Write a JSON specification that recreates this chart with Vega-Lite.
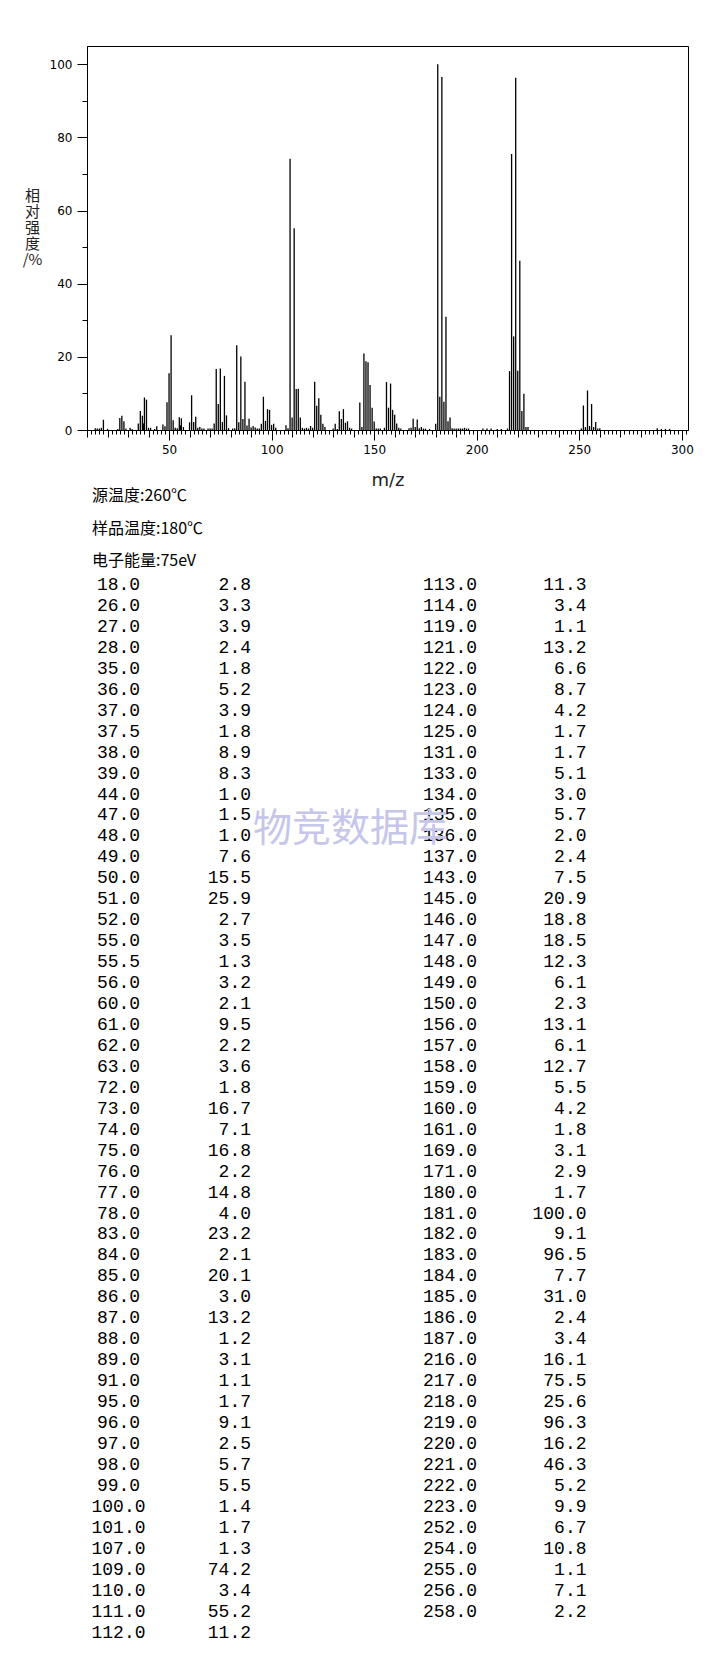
{
  "$schema": "https://vega.github.io/schema/vega-lite/v6.json",
  "autosize": "none",
  "padding": {"left": 87, "top": 46, "right": 21, "bottom": 1228},
  "width": 601,
  "height": 384,
  "background": "#ffffff",
  "config": {
    "view": {"stroke": "#000000", "strokeWidth": 1},
    "axis": {"grid": false, "domainColor": "#000000", "tickColor": "#000000", "labelColor": "#000000", "labelFont": "DejaVu Sans", "labelFontSize": 12, "domainWidth": 1, "tickWidth": 1}
  },
  "datasets": {
    "peaks": [
      {"mz": 18, "intensity": 2.8}, {"mz": 26, "intensity": 3.3}, {"mz": 27, "intensity": 3.9}, {"mz": 28, "intensity": 2.4},
      {"mz": 35, "intensity": 1.8}, {"mz": 36, "intensity": 5.2}, {"mz": 37, "intensity": 3.9}, {"mz": 37.5, "intensity": 1.8},
      {"mz": 38, "intensity": 8.9}, {"mz": 39, "intensity": 8.3}, {"mz": 44, "intensity": 1.0}, {"mz": 47, "intensity": 1.5},
      {"mz": 48, "intensity": 1.0}, {"mz": 49, "intensity": 7.6}, {"mz": 50, "intensity": 15.5}, {"mz": 51, "intensity": 25.9},
      {"mz": 52, "intensity": 2.7}, {"mz": 55, "intensity": 3.5}, {"mz": 55.5, "intensity": 1.3}, {"mz": 56, "intensity": 3.2},
      {"mz": 60, "intensity": 2.1}, {"mz": 61, "intensity": 9.5}, {"mz": 62, "intensity": 2.2}, {"mz": 63, "intensity": 3.6},
      {"mz": 72, "intensity": 1.8}, {"mz": 73, "intensity": 16.7}, {"mz": 74, "intensity": 7.1}, {"mz": 75, "intensity": 16.8},
      {"mz": 76, "intensity": 2.2}, {"mz": 77, "intensity": 14.8}, {"mz": 78, "intensity": 4.0}, {"mz": 83, "intensity": 23.2},
      {"mz": 84, "intensity": 2.1}, {"mz": 85, "intensity": 20.1}, {"mz": 86, "intensity": 3.0}, {"mz": 87, "intensity": 13.2},
      {"mz": 88, "intensity": 1.2}, {"mz": 89, "intensity": 3.1}, {"mz": 91, "intensity": 1.1}, {"mz": 95, "intensity": 1.7},
      {"mz": 96, "intensity": 9.1}, {"mz": 97, "intensity": 2.5}, {"mz": 98, "intensity": 5.7}, {"mz": 99, "intensity": 5.5},
      {"mz": 100, "intensity": 1.4}, {"mz": 101, "intensity": 1.7}, {"mz": 107, "intensity": 1.3}, {"mz": 109, "intensity": 74.2},
      {"mz": 110, "intensity": 3.4}, {"mz": 111, "intensity": 55.2}, {"mz": 112, "intensity": 11.2},
      {"mz": 113, "intensity": 11.3}, {"mz": 114, "intensity": 3.4}, {"mz": 119, "intensity": 1.1}, {"mz": 121, "intensity": 13.2},
      {"mz": 122, "intensity": 6.6}, {"mz": 123, "intensity": 8.7}, {"mz": 124, "intensity": 4.2}, {"mz": 125, "intensity": 1.7},
      {"mz": 131, "intensity": 1.7}, {"mz": 133, "intensity": 5.1}, {"mz": 134, "intensity": 3.0}, {"mz": 135, "intensity": 5.7},
      {"mz": 136, "intensity": 2.0}, {"mz": 137, "intensity": 2.4}, {"mz": 143, "intensity": 7.5}, {"mz": 145, "intensity": 20.9},
      {"mz": 146, "intensity": 18.8}, {"mz": 147, "intensity": 18.5}, {"mz": 148, "intensity": 12.3}, {"mz": 149, "intensity": 6.1},
      {"mz": 150, "intensity": 2.3}, {"mz": 156, "intensity": 13.1}, {"mz": 157, "intensity": 6.1}, {"mz": 158, "intensity": 12.7},
      {"mz": 159, "intensity": 5.5}, {"mz": 160, "intensity": 4.2}, {"mz": 161, "intensity": 1.8}, {"mz": 169, "intensity": 3.1},
      {"mz": 171, "intensity": 2.9}, {"mz": 180, "intensity": 1.7}, {"mz": 181, "intensity": 100.0}, {"mz": 182, "intensity": 9.1},
      {"mz": 183, "intensity": 96.5}, {"mz": 184, "intensity": 7.7}, {"mz": 185, "intensity": 31.0}, {"mz": 186, "intensity": 2.4},
      {"mz": 187, "intensity": 3.4}, {"mz": 216, "intensity": 16.1}, {"mz": 217, "intensity": 75.5}, {"mz": 218, "intensity": 25.6},
      {"mz": 219, "intensity": 96.3}, {"mz": 220, "intensity": 16.2}, {"mz": 221, "intensity": 46.3}, {"mz": 222, "intensity": 5.2},
      {"mz": 223, "intensity": 9.9}, {"mz": 252, "intensity": 6.7}, {"mz": 254, "intensity": 10.8}, {"mz": 255, "intensity": 1.1},
      {"mz": 256, "intensity": 7.1}, {"mz": 258, "intensity": 2.2},
      {"mz": 14, "intensity": 0.5}, {"mz": 15, "intensity": 0.4}, {"mz": 16, "intensity": 0.4}, {"mz": 17, "intensity": 0.6},
      {"mz": 20, "intensity": 0.3}, {"mz": 25, "intensity": 0.3}, {"mz": 29, "intensity": 0.4}, {"mz": 31, "intensity": 0.6},
      {"mz": 32, "intensity": 0.3}, {"mz": 40, "intensity": 0.6}, {"mz": 41, "intensity": 0.6}, {"mz": 43, "intensity": 0.3},
      {"mz": 53, "intensity": 0.6}, {"mz": 54, "intensity": 0.5}, {"mz": 57, "intensity": 0.8}, {"mz": 64, "intensity": 0.6},
      {"mz": 65, "intensity": 0.8}, {"mz": 66, "intensity": 0.4}, {"mz": 67, "intensity": 0.4}, {"mz": 69, "intensity": 0.4},
      {"mz": 70, "intensity": 0.4}, {"mz": 71, "intensity": 0.4}, {"mz": 79, "intensity": 0.5}, {"mz": 81, "intensity": 0.4},
      {"mz": 82, "intensity": 0.5}, {"mz": 90, "intensity": 0.7}, {"mz": 92, "intensity": 0.7}, {"mz": 93, "intensity": 0.4},
      {"mz": 94, "intensity": 0.4}, {"mz": 102, "intensity": 0.6}, {"mz": 108, "intensity": 0.5}, {"mz": 115, "intensity": 0.6},
      {"mz": 116, "intensity": 0.4}, {"mz": 117, "intensity": 0.6}, {"mz": 118, "intensity": 0.4}, {"mz": 120, "intensity": 0.6},
      {"mz": 126, "intensity": 0.8}, {"mz": 130, "intensity": 0.4}, {"mz": 132, "intensity": 0.3}, {"mz": 138, "intensity": 0.6},
      {"mz": 139, "intensity": 0.4}, {"mz": 144, "intensity": 0.8}, {"mz": 151, "intensity": 0.4}, {"mz": 152, "intensity": 0.4},
      {"mz": 153, "intensity": 0.4}, {"mz": 155, "intensity": 0.6}, {"mz": 162, "intensity": 0.6}, {"mz": 163, "intensity": 0.4},
      {"mz": 167, "intensity": 0.5}, {"mz": 168, "intensity": 0.6}, {"mz": 170, "intensity": 0.8}, {"mz": 172, "intensity": 0.5},
      {"mz": 173, "intensity": 0.8}, {"mz": 174, "intensity": 0.4}, {"mz": 175, "intensity": 0.4}, {"mz": 177, "intensity": 0.3},
      {"mz": 188, "intensity": 0.5}, {"mz": 189, "intensity": 0.4}, {"mz": 190, "intensity": 0.4}, {"mz": 191, "intensity": 0.4},
      {"mz": 192, "intensity": 0.4}, {"mz": 193, "intensity": 0.4}, {"mz": 194, "intensity": 0.6}, {"mz": 195, "intensity": 0.4},
      {"mz": 196, "intensity": 0.4}, {"mz": 203, "intensity": 0.4}, {"mz": 205, "intensity": 0.4}, {"mz": 207, "intensity": 0.4},
      {"mz": 210, "intensity": 0.3}, {"mz": 212, "intensity": 0.3}, {"mz": 215, "intensity": 0.4}, {"mz": 224, "intensity": 0.8},
      {"mz": 225, "intensity": 0.8}, {"mz": 251, "intensity": 0.4}, {"mz": 253, "intensity": 0.8}, {"mz": 257, "intensity": 0.8},
      {"mz": 259, "intensity": 0.4}, {"mz": 260, "intensity": 0.5}, {"mz": 288, "intensity": 0.5}, {"mz": 290, "intensity": 0.3},
      {"mz": 292, "intensity": 0.3}, {"mz": 294, "intensity": 0.3}
    ],
    "info": [
      {"label": "源温度:260℃"},
      {"label": "样品温度:180℃"},
      {"label": "电子能量:75eV"}
    ],
    "watermark": [
      {"label": "物竞数据库"}
    ]
  },
  "layer": [
    {
      "layer": [
        {
          "data": {"name": "peaks"},
          "mark": {"type": "rule", "color": "#000000", "strokeWidth": 1.3},
          "encoding": {
            "x": {
              "field": "mz", "type": "quantitative",
              "scale": {"domain": [10, 303], "nice": false, "zero": false},
              "axis": {"orient": "bottom", "values": [50, 100, 150, 200, 250, 300], "format": "d", "tickSize": 10, "labelPadding": 4,
                "title": "m/z", "titleFont": "DejaVu Sans", "titleFontSize": 18, "titleFontWeight": "normal", "titleColor": "#222222",
                "titleY": 55, "titleBaseline": "alphabetic"}
            },
            "y": {
              "field": "intensity", "type": "quantitative",
              "scale": {"domain": [0, 105], "nice": false, "zero": true},
              "axis": {"orient": "left", "values": [0, 20, 40, 60, 80, 100], "tickSize": 10, "labelPadding": 5,
                "title": ["相", "对", "强", "度", "/%"], "titleAngle": 0, "titleX": -55, "titleY": 142, "titleAlign": "center",
                "titleBaseline": "top", "titleLineHeight": 16, "titleFont": "Noto Sans CJK SC", "titleFontSize": 15,
                "titleFontWeight": "normal", "titleColor": "#222222"}
            },
            "y2": {"datum": 0}
          }
        },
        {
          "data": {"name": "peaks"},
          "transform": [{"filter": "false"}],
          "mark": {"type": "rule"},
          "encoding": {
            "x": {
              "field": "mz", "type": "quantitative",
              "scale": {"domain": [10, 303], "nice": false, "zero": false},
              "axis": {"orient": "bottom", "values": [10, 20, 30, 40, 50, 60, 70, 80, 90, 100, 110, 120, 130, 140, 150, 160, 170, 180, 190, 200, 210, 220, 230, 240, 250, 260, 270, 280, 290, 300],
                "tickSize": 7, "labels": false, "domain": false, "title": null}
            },
            "y": {
              "field": "intensity", "type": "quantitative",
              "scale": {"domain": [0, 105], "nice": false, "zero": true},
              "axis": {"orient": "left", "values": [10, 30, 50, 70, 90], "tickSize": 5, "labels": false, "domain": false, "title": null}
            }
          }
        },
        {
          "data": {"name": "peaks"},
          "transform": [{"filter": "false"}],
          "mark": {"type": "rule"},
          "encoding": {
            "x": {
              "field": "mz", "type": "quantitative",
              "scale": {"domain": [10, 303], "nice": false, "zero": false},
              "axis": {"orient": "bottom", "values": [10, 12, 14, 16, 18, 20, 22, 24, 26, 28, 30, 32, 34, 36, 38, 40, 42, 44, 46, 48, 50, 52, 54, 56, 58, 60, 62, 64, 66, 68, 70, 72, 74, 76, 78, 80, 82, 84, 86, 88, 90, 92, 94, 96, 98, 100, 102, 104, 106, 108, 110, 112, 114, 116, 118, 120, 122, 124, 126, 128, 130, 132, 134, 136, 138, 140, 142, 144, 146, 148, 150, 152, 154, 156, 158, 160, 162, 164, 166, 168, 170, 172, 174, 176, 178, 180, 182, 184, 186, 188, 190, 192, 194, 196, 198, 200, 202, 204, 206, 208, 210, 212, 214, 216, 218, 220, 222, 224, 226, 228, 230, 232, 234, 236, 238, 240, 242, 244, 246, 248, 250, 252, 254, 256, 258, 260, 262, 264, 266, 268, 270, 272, 274, 276, 278, 280, 282, 284, 286, 288, 290, 292, 294, 296, 298, 300, 302],
                "tickSize": 4, "labels": false, "domain": false, "title": null}
            },
            "y": {
              "field": "intensity", "type": "quantitative",
              "scale": {"domain": [0, 105], "nice": false, "zero": true},
              "axis": null
            }
          }
        }
      ],
      "resolve": {"axis": {"x": "independent", "y": "independent"}}
    },
    {
      "data": {"name": "info"},
      "transform": [{"window": [{"op": "row_number", "as": "line"}]}],
      "mark": {"type": "text", "font": "Noto Sans CJK SC", "fontSize": 16, "align": "left", "baseline": "alphabetic", "color": "#000000"},
      "encoding": {
        "x": {"datum": "left", "type": "nominal", "scale": {"domain": ["left", "right"], "range": [5, 340], "padding": 0}, "axis": null},
        "y": {"field": "line", "type": "quantitative", "scale": {"domain": [1, 3], "range": [455, 520], "nice": false, "zero": false}, "axis": null},
        "text": {"field": "label", "type": "nominal"}
      }
    },
    {
      "data": {"name": "peaks"},
      "transform": [
        {"filter": "datum.intensity >= 1 && datum.mz < 112.5"},
        {"window": [{"op": "row_number", "as": "row"}], "sort": [{"field": "mz", "order": "ascending"}]}
      ],
      "mark": {"type": "text", "font": "Liberation Mono", "fontSize": 18, "align": "center", "baseline": "alphabetic", "color": "#000000"},
      "encoding": {
        "x": {"datum": "left", "type": "nominal", "scale": {"domain": ["left", "right"], "range": [31.5, 363], "padding": 0}, "axis": null},
        "y": {"field": "row", "type": "quantitative", "scale": {"domain": [1, 51], "range": [544, 1591.5], "nice": false, "zero": false}, "axis": null},
        "text": {"field": "mz", "type": "quantitative", "format": ".1f"}
      }
    },
    {
      "data": {"name": "peaks"},
      "transform": [
        {"filter": "datum.intensity >= 1 && datum.mz < 112.5"},
        {"window": [{"op": "row_number", "as": "row"}], "sort": [{"field": "mz", "order": "ascending"}]}
      ],
      "mark": {"type": "text", "font": "Liberation Mono", "fontSize": 18, "align": "right", "baseline": "alphabetic", "color": "#000000"},
      "encoding": {
        "x": {"datum": "left", "type": "nominal", "scale": {"domain": ["left", "right"], "range": [164, 499.5], "padding": 0}, "axis": null},
        "y": {"field": "row", "type": "quantitative", "scale": {"domain": [1, 51], "range": [544, 1591.5], "nice": false, "zero": false}, "axis": null},
        "text": {"field": "intensity", "type": "quantitative", "format": ".1f"}
      }
    },
    {
      "data": {"name": "peaks"},
      "transform": [
        {"filter": "datum.intensity >= 1 && datum.mz > 112.5"},
        {"window": [{"op": "row_number", "as": "row"}], "sort": [{"field": "mz", "order": "ascending"}]}
      ],
      "mark": {"type": "text", "font": "Liberation Mono", "fontSize": 18, "align": "center", "baseline": "alphabetic", "color": "#000000"},
      "encoding": {
        "x": {"datum": "right", "type": "nominal", "scale": {"domain": ["left", "right"], "range": [31.5, 363], "padding": 0}, "axis": null},
        "y": {"field": "row", "type": "quantitative", "scale": {"domain": [1, 51], "range": [544, 1591.5], "nice": false, "zero": false}, "axis": null},
        "text": {"field": "mz", "type": "quantitative", "format": ".1f"}
      }
    },
    {
      "data": {"name": "peaks"},
      "transform": [
        {"filter": "datum.intensity >= 1 && datum.mz > 112.5"},
        {"window": [{"op": "row_number", "as": "row"}], "sort": [{"field": "mz", "order": "ascending"}]}
      ],
      "mark": {"type": "text", "font": "Liberation Mono", "fontSize": 18, "align": "right", "baseline": "alphabetic", "color": "#000000"},
      "encoding": {
        "x": {"datum": "right", "type": "nominal", "scale": {"domain": ["left", "right"], "range": [164, 499.5], "padding": 0}, "axis": null},
        "y": {"field": "row", "type": "quantitative", "scale": {"domain": [1, 51], "range": [544, 1591.5], "nice": false, "zero": false}, "axis": null},
        "text": {"field": "intensity", "type": "quantitative", "format": ".1f"}
      }
    },
    {
      "data": {"name": "watermark"},
      "mark": {"type": "text", "font": "Noto Sans CJK SC", "fontSize": 39, "align": "left", "baseline": "alphabetic", "color": "#c6c6ea"},
      "encoding": {
        "x": {"datum": "left", "type": "nominal", "scale": {"domain": ["left", "right"], "range": [166, 400], "padding": 0}, "axis": null},
        "y": {"datum": 13, "type": "quantitative", "scale": {"domain": [1, 51], "range": [544, 1591.5], "nice": false, "zero": false}, "axis": null},
        "text": {"field": "label", "type": "nominal"}
      }
    }
  ],
  "resolve": {"scale": {"x": "independent", "y": "independent"}, "axis": {"x": "independent", "y": "independent"}}
}
